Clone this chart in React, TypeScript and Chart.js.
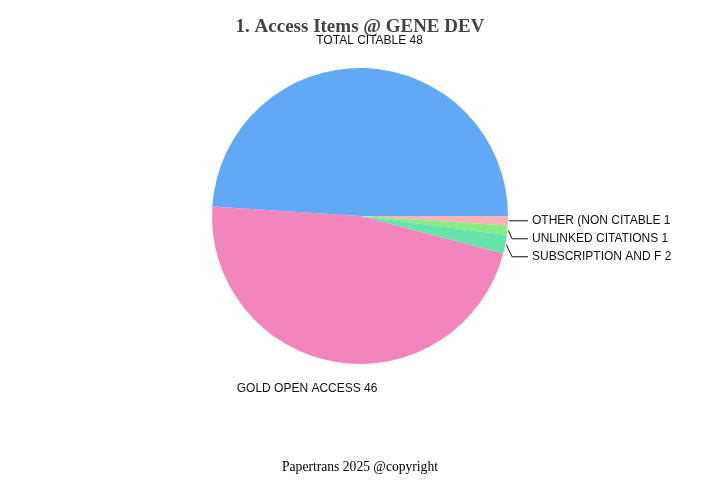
import React, { useEffect, useRef } from "react";
import { Chart, registerables } from "chart.js";

Chart.register(...registerables);

const titleText = "1. Access Items @ GENE DEV";
const footerText = "Papertrans 2025 @copyright";
const categories = [
  "OTHER (NON CITABLE",
  "UNLINKED CITATIONS",
  "SUBSCRIPTION AND F",
  "GOLD OPEN ACCESS",
  "TOTAL CITABLE",
];
const values = [1, 1, 2, 46, 48];
const colors = ["#F7B3B7", "#88EB84", "#66E4AC", "#F385BD", "#61A9F4"];

const labelPlugin = {
  id: "pieLabels",
  afterDraw(chart: any) {
    const ctx = chart.ctx;
    const meta = chart.getDatasetMeta(0);
    const ds = chart.data.datasets[0];
    ctx.save();
    // title
    ctx.fillStyle = "#444444";
    ctx.font = "bold 19px 'Liberation Serif', 'Times New Roman', serif";
    ctx.textAlign = "center";
    ctx.textBaseline = "alphabetic";
    ctx.fillText(titleText, chart.width / 2, 32);
    // footer
    ctx.fillStyle = "#000000";
    ctx.font = "13.6px 'Liberation Serif', 'Times New Roman', serif";
    ctx.fillText(footerText, chart.width / 2, 471);

    ctx.font = "12px 'Liberation Sans', Arial, sans-serif";
    ctx.fillStyle = "#111111";
    ctx.strokeStyle = "#111111";
    ctx.lineWidth = 1;
    let lastY = -Infinity;
    const total = values.reduce((a, b) => a + b, 0);
    meta.data.forEach((arc: any, i: number) => {
      const { x: cx, y: cy, startAngle, endAngle, outerRadius: r } = arc.getProps(
        ["x", "y", "startAngle", "endAngle", "outerRadius"],
        true
      );
      const mid = (startAngle + endAngle) / 2;
      const text = categories[i] + " " + ds.data[i];
      const frac = ds.data[i] / total;
      if (frac < 0.05) {
        const ex = cx + (r + 1) * Math.cos(mid);
        const ey = cy + (r + 1) * Math.sin(mid);
        const ly = Math.max(ey, lastY + 18);
        lastY = ly;
        const kx = cx + r + 4;
        const lx = cx + r + 20;
        ctx.beginPath();
        ctx.moveTo(ex, ey);
        ctx.lineTo(kx, ly);
        ctx.lineTo(lx, ly);
        ctx.stroke();
        ctx.textAlign = "left";
        ctx.textBaseline = "middle";
        ctx.fillText(text, lx + 4, ly);
      } else {
        const d = r + 27;
        let tx = cx + d * Math.cos(mid);
        const ty = cy + d * Math.sin(mid);
        if (Math.cos(mid) < -0.1) tx -= 25;
        else tx += 4;
        ctx.textAlign = "center";
        ctx.textBaseline = "middle";
        ctx.fillText(text, tx, ty);
      }
    });
    ctx.restore();
  },
};

export default function App() {
  const ref = useRef<HTMLCanvasElement>(null);
  useEffect(() => {
    const chart = new Chart(ref.current as HTMLCanvasElement, {
      type: "pie",
      data: {
        labels: categories,
        datasets: [
          {
            data: values,
            backgroundColor: colors,
            borderWidth: 0,
          },
        ],
      },
      options: {
        animation: false,
        responsive: false,
        rotation: 90,
        layout: { padding: { top: 68, bottom: 116, left: 0, right: 0 } },
        plugins: {
          legend: { display: false },
          tooltip: { enabled: false },
          title: { display: false },
        },
      },
      plugins: [labelPlugin],
    });
    return () => chart.destroy();
  }, []);
  return (
    <div style={{ position: "fixed", left: 0, top: 0, width: 720, height: 480, background: "#fff" }}>
      <canvas ref={ref} width={720} height={480} style={{ width: 720, height: 480 }} />
    </div>
  );
}
